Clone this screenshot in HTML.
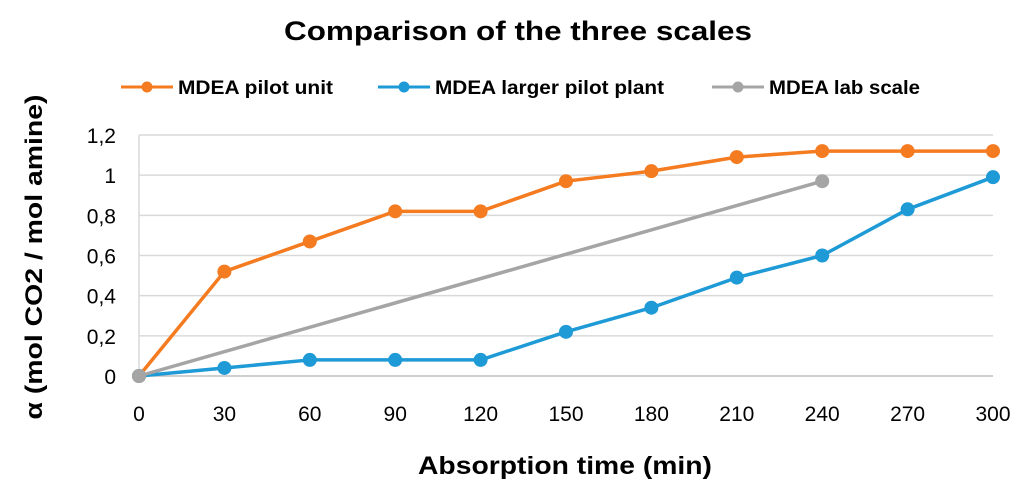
<!DOCTYPE html>
<html><head><meta charset="utf-8"><style>
body{margin:0;background:#fff;}
svg{display:block;font-family:"Liberation Sans",Arial,sans-serif;}
</style></head><body>
<svg id="chart" width="1024" height="494">
<text x="518" y="40" text-anchor="middle" font-size="27" font-weight="bold" textLength="468" lengthAdjust="spacingAndGlyphs" fill="#000">Comparison of the three scales</text>
<g id="legend"></g>
<g id="grid"></g>
<g id="yticks"></g>
<g id="xticks"></g>
<g id="series"></g>
<text x="565" y="474" text-anchor="middle" font-size="25" font-weight="bold" textLength="294" lengthAdjust="spacingAndGlyphs">Absorption time (min)</text>
<text transform="translate(42,257) rotate(-90)" text-anchor="middle" font-size="24" font-weight="bold" textLength="325" lengthAdjust="spacingAndGlyphs">α (mol CO2 / mol amine)</text>
</svg>
<script>
const xCats=[0,30,60,90,120,150,180,210,240,270,300];
const yTicks=[0,0.2,0.4,0.6,0.8,1,1.2];
const yTickLabels=["0","0,2","0,4","0,6","0,8","1","1,2"];
const pilotX=[0,30,60,90,120,150,180,210,240,270,300];
const pilotY=[0,0.52,0.67,0.82,0.82,0.97,1.02,1.09,1.12,1.12,1.12];
const largerX=[0,30,60,90,120,150,180,210,240,270,300];
const largerY=[0,0.04,0.08,0.08,0.08,0.22,0.34,0.49,0.6,0.83,0.99];
const labX=[0,240];
const labY=[0,0.97];
const names=["MDEA pilot unit","MDEA larger pilot plant","MDEA lab scale"];
const colors=["#f47b20","#1e9ad6","#a5a5a5"];
const NS="http://www.w3.org/2000/svg";
const X0=139,X1=993,Y0=376,Y1=135;
const sx=v=>X0+(v-0)/(300-0)*(X1-X0);
const sy=v=>Y0-(v-0)/(1.2-0)*(Y0-Y1);
function mk(tag,attrs,parent){const e=document.createElementNS(NS,tag);for(const k in attrs)e.setAttribute(k,attrs[k]);parent.appendChild(e);return e;}
const grid=document.getElementById('grid'),yt=document.getElementById('yticks'),xt=document.getElementById('xticks'),ser=document.getElementById('series'),leg=document.getElementById('legend');
yTicks.forEach((v,i)=>{
 const l=mk('line',{x1:X0,x2:X1,y1:sy(v),y2:sy(v),stroke:i==0?'#bfbfbf':'#d9d9d9','stroke-width':1.5},grid);
 
 
 const t=mk('text',{x:116,y:sy(v)+8,'text-anchor':'end','font-size':21},yt);
 t.textContent=yTickLabels[i];
 
 
});
const ax=mk('line',{x1:X0,x2:X0,y1:Y1,y2:Y0,stroke:'#d9d9d9','stroke-width':1.5},grid);


xCats.forEach(v=>{
 const t=mk('text',{x:sx(v),y:421,'text-anchor':'middle','font-size':21},xt);
 t.textContent=v;
 
 
});
function drawSeries(xs,ys,c,name){
 const g=mk('g',{},ser);
 
 
 const p=mk('polyline',{points:xs.map((x,i)=>sx(x)+','+sy(ys[i])).join(' '),fill:'none',stroke:c,'stroke-width':3.5,'stroke-linejoin':'round'},g);
 
 
 xs.forEach((x,i)=>{
  const m=mk('circle',{cx:sx(x),cy:sy(ys[i]),r:7,fill:c},g);
  
  
 });
}
drawSeries(pilotX,pilotY,colors[0],'pilot-unit-series');
drawSeries(largerX,largerY,colors[1],'larger-pilot-series');
drawSeries(labX,labY,colors[2],'lab-scale-series');
const legX=[121,378,712];
const legTextW=[155,229,151];
names.forEach((n,i)=>{
 const g=mk('g',{},leg);
 
 
 mk('line',{x1:legX[i],x2:legX[i]+52,y1:87,y2:87,stroke:colors[i],'stroke-width':3},g);
 mk('circle',{cx:legX[i]+26,cy:87,r:5.5,fill:colors[i]},g);
 const t=mk('text',{x:legX[i]+57,y:94,'font-size':19,'font-weight':'bold',textLength:legTextW[i],lengthAdjust:'spacingAndGlyphs'},g);
 t.textContent=n;
});
</script>
</body></html>
